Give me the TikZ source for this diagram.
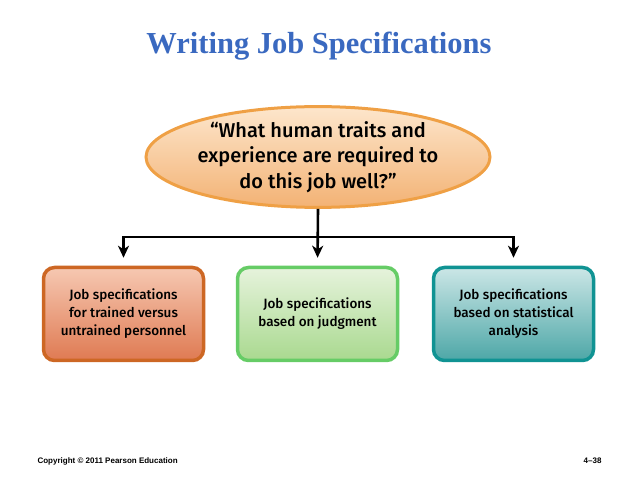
\documentclass[tikz,border=0pt]{standalone}
\usepackage{fontspec}
\setmainfont{Liberation Sans}
\newfontfamily\titlefont{Liberation Serif}
\newfontfamily\medfont{Fira Sans}[UprightFont={* Medium}]
\usepackage{tikz}
\usetikzlibrary{positioning}
\usetikzlibrary{shapes.geometric}
\usetikzlibrary{arrows.meta}

\definecolor{titleblue}{HTML}{3A69C0}
\definecolor{ovalline}{HTML}{EFA045}
\definecolor{ovaltop}{HTML}{FDE6CC}
\definecolor{ovalbot}{HTML}{F3B274}
\definecolor{orangeline}{HTML}{CD6724}
\definecolor{orangetop}{HTML}{F6C8B2}
\definecolor{orangebot}{HTML}{DF7A52}
\definecolor{greenline}{HTML}{66CC66}
\definecolor{greentop}{HTML}{E6F3DC}
\definecolor{greenbot}{HTML}{A9D98F}
\definecolor{tealline}{HTML}{109393}
\definecolor{tealtop}{HTML}{CBE6E6}
\definecolor{tealbot}{HTML}{4DA7A7}

\begin{document}
\begin{tikzpicture}[
                          x=1pt, y=-1pt,
                          ovalnode/.style={ellipse, draw=ovalline, line width=3pt, top color=ovaltop, bottom color=ovalbot, minimum width=344pt, minimum height=95pt, inner sep=0pt, align=center, font=\medfont\fontsize{20}{25.5}\selectfont},
                          specnode/.style={rectangle, rounded corners=11pt, line width=3.5pt, minimum width=160pt, minimum height=93pt, align=center, font=\medfont\fontsize{13.5}{18}\selectfont},
                          arrowline/.style={line width=2.6pt, -{Stealth[length=12pt, width=11pt, inset=3.5pt]}},
                      ]
                      \useasboundingbox (0,0) rectangle (638,478);

                      % Nodes
                      \node[text=titleblue, font=\titlefont\bfseries\fontsize{30.5}{36}\selectfont] (title) at (319,46) {Writing Job Specifications};

                      \node[ovalnode]        (question)         at (318,157)        {\textquotedblleft What human traits and\\experience are required to\\do this job well?\textquotedblright};

                      \node[specnode, draw=greenline, top color=greentop, bottom color=greenbot]      (judgment)      at (317.5,314)   {Job specifications\\based on judgment};
                      \node[specnode, draw=orangeline, top color=orangetop, bottom color=orangebot]   (trained)       [left=30.5pt of judgment]    {Job specifications\\for trained versus\\untrained personnel};
                      \node[specnode, draw=tealline, top color=tealtop, bottom color=tealbot]         (statistical)   [right=32.5pt of judgment]   {Job specifications\\based on statistical\\analysis};

                      \coordinate (split) at (318,237);

                      \node[anchor=west, font=\bfseries\fontsize{8}{10}\selectfont] (copyright) at (34,461) {Copyright \textcopyright{} 2011 Pearson Education};
                      \node[anchor=east, font=\bfseries\fontsize{8}{10}\selectfont] (slide) at (605,461) {4--38};

                      %Lines
                      \draw[arrowline, shorten >=8pt] (question.south) -- (judgment.north);
                      \draw[arrowline, shorten >=8pt] (split) -| (trained.north);
                      \draw[arrowline, shorten >=8pt] (split) -| (statistical.north);
                  \end{tikzpicture}
\end{document}
